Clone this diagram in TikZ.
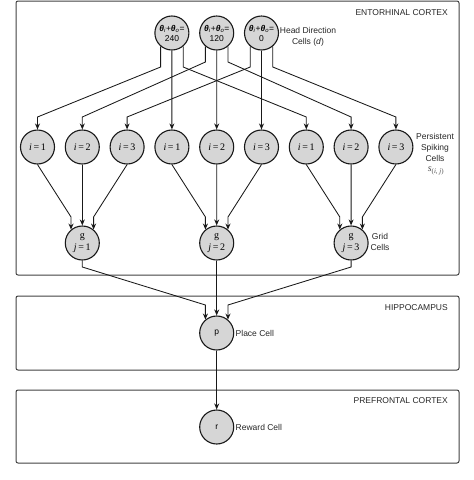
\documentclass[tikz,border=0pt]{standalone}
\usepackage{fontspec}
\setmainfont{Liberation Serif}
\newfontfamily\lsans{Liberation Sans}
\usetikzlibrary{arrows.meta,calc}
\newcommand{\hdtxt}[1]{\textbf{\textit{θ}}\textsubscript{\textit{i}}+\textbf{\textit{θ}}\textsubscript{\textit{o}}=\\#1}
\begin{document}
\begin{tikzpicture}[x=1pt,y=-1pt,
  cell/.style={circle, draw=black!90, fill=black!16, line width=1.1pt, minimum size=34pt, inner sep=0pt, align=center},
  hdcell/.style={cell, font=\lsans\fontsize{8.5}{10}\selectfont},
  pcell/.style={cell, font=\fontsize{10}{12}\selectfont},
  scell/.style={cell, font=\lsans\fontsize{8.5}{10}\selectfont},
  arr/.style={-{Stealth[length=6pt,width=5pt]}, line width=0.85pt, draw=black!90},
  region/.style={draw=black!75, line width=1pt, rounded corners=2pt},
  lbl/.style={font=\lsans\fontsize{8.5}{11}\selectfont, align=center, inner sep=0pt, text=black!85},
  title/.style={font=\lsans\fontsize{8.5}{10}\selectfont, anchor=east, inner sep=0pt, text=black!85}]
\useasboundingbox (0,0) rectangle (474,480);
% regions
\draw[region] (16,1) rectangle (459,275);
\draw[region] (16,296) rectangle (459,370);
\draw[region] (16,390) rectangle (459,463);
\node[title] (t1) at (448,13) {ENTORHINAL CORTEX};
\node[title] (t2) at (448,308) {HIPPOCAMPUS};
\node[title] (t3) at (448,401) {PREFRONTAL CORTEX};
% head direction cells
\node[hdcell] (hd1) at (171.9,33) {\hdtxt{240}};
\node[hdcell] (hd2) at (216.7,33) {\hdtxt{120}};
\node[hdcell] (hd3) at (261.5,33) {\hdtxt{0}};
% persistent spiking cells
\foreach \k/\i in {1/1,2/2,3/3,4/1,5/2,6/3,7/1,8/2,9/3}{
  \node[pcell] (p\k) at ({37.5+44.8*(\k-1)},147) {\textit{i}\,=\,\i};
}
% grid cells
\node[pcell] (g1) at (82.3,243) {g\\\textit{j}\,=\,1};
\node[pcell] (g2) at (216.7,243) {g\\\textit{j}\,=\,2};
\node[pcell] (g3) at (351.1,243) {g\\\textit{j}\,=\,3};
% place and reward
\node[scell] (pc) at (216.7,333) {p};
\node[scell] (rc) at (216.7,427) {r};
% labels
\node[lbl] (hdl) at (308,36.5) {Head Direction\\Cells (\textit{d})};
\node[lbl] (psl) at (435,147) {Persistent\\Spiking\\Cells};
\node[inner sep=0pt, text=black!70, font=\fontsize{10}{11}\selectfont] (sl) at (436,171) {\textit{s}\textsubscript{(\textit{i}, \textit{j})}};
\node[lbl] (gl) at (380,242) {Grid\\Cells};
\node[lbl, anchor=west] (pl) at (235.5,333) {Place Cell};
\node[lbl, anchor=west] (rl) at (235.5,427) {Reward Cell};
% head direction -> persistent
\draw[arr] (hd1.230) -- (hd1.230 |- 0,67) -- (p1.north |- 0,117) -- (p1.north);
\draw[arr] (hd1.south) -- (p4.north);
\draw[arr] (hd1.310) -- (hd1.310 |- 0,67) -- (p7.north |- 0,117) -- (p7.north);
\draw[arr] (hd2.230) -- (hd2.230 |- 0,62) -- (p2.north |- 0,117) -- (p2.north);
\draw[arr] (hd2.south) -- (p5.north);
\draw[arr] (hd2.310) -- (hd2.310 |- 0,62) -- (p8.north |- 0,117) -- (p8.north);
\draw[arr] (hd3.230) -- (hd3.230 |- 0,67) -- (p3.north |- 0,117) -- (p3.north);
\draw[arr] (hd3.south) -- (p6.north);
\draw[arr] (hd3.310) -- (hd3.310 |- 0,67) -- (p9.north |- 0,117) -- (p9.north);
% persistent -> grid
\foreach \g/\a/\b/\c in {g1/p1/p2/p3, g2/p4/p5/p6, g3/p7/p8/p9}{
  \draw[arr] (\a.south) -- (\g.130 |- 0,217) -- (\g.130);
  \draw[arr] (\b.south) -- (\g.north);
  \draw[arr] (\c.south) -- (\g.50 |- 0,217) -- (\g.50);
}
% grid -> place
\draw[arr] (g1.south) -- (g1.south |- 0,267) -- (pc.130 |- 0,305) -- (pc.130);
\draw[arr] (g2.south) -- (pc.north);
\draw[arr] (g3.south) -- (g3.south |- 0,267) -- (pc.50 |- 0,305) -- (pc.50);
% place -> reward
\draw[arr] (pc.south) -- (rc.north);
\end{tikzpicture}
\end{document}
